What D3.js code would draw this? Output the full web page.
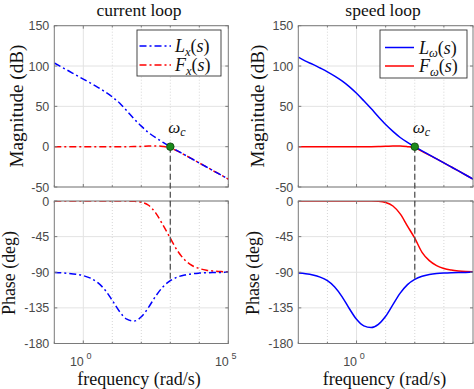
<!DOCTYPE html>
<html><head><meta charset="utf-8">
<script src="https://cdn.jsdelivr.net/npm/d3@7"></script>
<style>body{margin:0;background:#fff}svg{display:block}</style>
</head><body><svg id="c" width="474" height="389"></svg>
<script>
// ---------- data ----------
const leftFreq = [0.1, 0.1778, 0.3162, 0.5623, 1, 1.778, 3.162, 5.623, 10, 17.78, 31.62, 56.23, 100, 177.8, 316.2, 562.3, 1000, 1778, 3162, 5623, 10000, 17783, 31623, 56234, 100000];
const leftLmag = [103.8, 98.8, 93.8, 88.8, 83.8, 78.8, 73.6, 68.0, 61.7, 54.1, 44.5, 34.5, 25.5, 17.5, 11.0, 5.3, 0, -5.1, -10.2, -15.2, -20.2, -25.2, -30.2, -35.2, -40.2];
const leftLphase = [-90.4, -90.8, -91.4, -92.4, -94.3, -97.5, -103.2, -112.4, -125.6, -139.6, -149.3, -151.7, -146.3, -134.3, -120.0, -108.3, -100.6, -96.0, -93.4, -91.9, -91.1, -90.6, -90.3, -90.2, -90.1];
const leftFmag = [0, 0, 0, 0, 0, 0, 0, 0, 0.01, 0.02, 0.04, 0.12, 0.34, 0.72, 0.96, 0.24, -1.5, -5.6, -10.3, -15.2, -20.2, -25.2, -30.2, -35.2, -40.2];
const leftFphase = [0, 0, 0, 0, 0, 0, -0.01, -0.02, -0.04, -0.07, -0.15, -0.44, -1.5, -5.4, -15.3, -30.5, -47, -63, -74.5, -81.5, -85.3, -87.4, -88.5, -89.2, -89.5];

const rightFreq = [0.01, 0.01778, 0.03162, 0.05623, 0.1, 0.1778, 0.3162, 0.5623, 1, 1.778, 3.162, 5.623, 10, 17.78, 31.62, 56.23, 100, 177.8, 316.2, 562.3, 1000, 1778, 3162, 5623, 10000];
const rightLmag = [111, 106, 102, 97.5, 92.8, 87.5, 81.6, 74.5, 66.2, 56.9, 47.2, 37.1, 27.5, 19, 11.4, 5.3, 0, -5.1, -10.1, -15.1, -20.1, -25.1, -30.1, -35.1, -40.1];
const rightLphase = [-91.1, -91.9, -93.4, -96.1, -100.7, -108.6, -120.7, -135.8, -149.5, -157.8, -159.9, -155.8, -145.6, -130.9, -116.4, -105.6, -99.0, -95.1, -92.9, -91.6, -90.9, -90.5, -90.3, -90.2, -90.1];
const rightFmag = [0, 0, 0, 0, 0, 0, 0, 0, 0, 0.02, 0.05, 0.15, 0.38, 0.73, 0.82, 0, -1.5, -5.9, -10.4, -15.2, -20.1, -25.1, -30.1, -35.1, -40.1];
const rightFphase = [0, 0, 0, 0, 0, 0, 0, 0, -0.02, -0.04, -0.13, -0.45, -1.8, -6.3, -16.3, -31.7, -47, -64.8, -75.3, -81.6, -85.3, -87.3, -88.5, -89.2, -89.5];

const titles = ["current loop", "speed loop"];
const legendSubs = ["x", "ω"];
const crossFreq = [1000, 100];
const crossPhase = [-100.6, -99.0];
const magTicks = [150, 100, 50, 0, -50];
const phaseTicks = [0, -45, -90, -135, -180];
const leftDecades = [0.1, 1, 10, 100, 1000, 10000, 100000];
const rightDecades = [0.01, 0.1, 1, 10, 100, 1000, 10000];
const xTickLabels = [[1, "0"], [100000, "5"]];

// ---------- layout ----------
const svg = d3.select("#c");
const serif = "'Liberation Serif','DejaVu Serif',serif";
const sans = "'Liberation Sans',Arial,Helvetica,sans-serif";
const BLUE = "#0000ff", RED = "#ff0000";
const TOP = [25.7, 187], BOT = [201, 343.5];

const panels = [
  {i:0, freq:leftFreq, Lm:leftLmag, Lp:leftLphase, Fm:leftFmag, Fp:leftFphase, domain:[0.1, 1e5], x0:54.3, x1:228.3,
   dash:"7,3,2,3", decades:leftDecades, major:[1, 1e5],
   legend:{x:137, y:30, w:84, h:46, lx0:139.5, lx1:171, tx:175, r1:46, r2:65},
   magLabX:16.5, phLabX:9, titleX:139, freqX:139},
  {i:1, freq:rightFreq, Lm:rightLmag, Lp:rightLphase, Fm:rightFmag, Fp:rightFphase, domain:[0.01, 1e4], x0:298.3, x1:473,
   dash:null, decades:rightDecades, major:[1],
   legend:{x:380, y:30, w:87, h:48, lx0:385, lx1:414, tx:419, r1:47.5, r2:66},
   magLabX:257.5, phLabX:252.5, titleX:383, freqX:384.5}
];

const yMag = d3.scaleLinear().domain([-50, 150]).range([TOP[1], TOP[0]]);
const yPh = d3.scaleLinear().domain([-180, 0]).range([BOT[1], BOT[0]]);

function fitWidth(sel, target, maxFs) {
  const w = sel.node().getBBox().width;
  const fs = parseFloat(sel.attr("font-size"));
  sel.attr("font-size", Math.min(maxFs || 99, fs * target / w));
}

panels.forEach(p => {
  const x = d3.scaleLog().domain(p.domain).range([p.x0, p.x1]);
  const g = svg.append("g");
  const clipT = "clipT" + p.i, clipB = "clipB" + p.i;
  const defs = svg.append("defs");
  defs.append("clipPath").attr("id", clipT).append("rect")
    .attr("x", p.x0).attr("y", TOP[0]).attr("width", p.x1 - p.x0).attr("height", TOP[1] - TOP[0]);
  defs.append("clipPath").attr("id", clipB).append("rect")
    .attr("x", p.x0).attr("y", BOT[0]).attr("width", p.x1 - p.x0).attr("height", BOT[1] - BOT[0]);

  [[TOP, yMag, magTicks], [BOT, yPh, phaseTicks]].forEach(([Y, ys, ticks]) => {
    g.append("rect").attr("x", p.x0).attr("y", Y[0]).attr("width", p.x1 - p.x0).attr("height", Y[1] - Y[0]).attr("fill", "#fff");
    g.selectAll(null).data(ticks).enter().append("line")
      .attr("x1", p.x0).attr("x2", p.x1).attr("y1", d => ys(d)).attr("y2", d => ys(d))
      .attr("stroke", "#e3e3e3").attr("stroke-width", 1);
    g.selectAll(null).data(p.decades.filter(d => d > p.domain[0] && d < p.domain[1])).enter().append("line")
      .attr("x1", d => x(d)).attr("x2", d => x(d)).attr("y1", Y[0]).attr("y2", Y[1])
      .attr("stroke", d => p.major.includes(d) ? "#e3e3e3" : "#d6d6d6")
      .attr("stroke-dasharray", d => p.major.includes(d) ? null : "1,2")
      .attr("stroke-width", 1);
  });

  const line = ys => d3.line().x(d => x(d[0])).y(d => ys(d[1])).curve(d3.curveMonotoneX);
  const series = [
    [p.Fm, yMag, RED, clipT], [p.Lm, yMag, BLUE, clipT],
    [p.Fp, yPh, RED, clipB], [p.Lp, yPh, BLUE, clipB]
  ];
  series.forEach(([vals, ys, col, clip]) => {
    g.append("path").attr("clip-path", `url(#${clip})`)
      .attr("d", line(ys)(p.freq.map((f, k) => [f, vals[k]])))
      .attr("fill", "none").attr("stroke", col).attr("stroke-width", 1.5)
      .attr("stroke-dasharray", p.dash);
  });

  [[TOP, yMag, magTicks], [BOT, yPh, phaseTicks]].forEach(([Y, ys, ticks]) => {
    g.append("rect").attr("x", p.x0).attr("y", Y[0]).attr("width", p.x1 - p.x0).attr("height", Y[1] - Y[0])
      .attr("fill", "none").attr("stroke", "#7a7a7a").attr("stroke-width", 1);
    ticks.forEach(t => {
      g.append("line").attr("x1", p.x0).attr("x2", p.x0 + 3).attr("y1", ys(t)).attr("y2", ys(t)).attr("stroke", "#7a7a7a");
      g.append("line").attr("x1", p.x1).attr("x2", p.x1 - 3).attr("y1", ys(t)).attr("y2", ys(t)).attr("stroke", "#7a7a7a");
      g.append("text").attr("x", p.x0 - 5).attr("y", ys(t)).attr("dy", "0.36em")
        .attr("text-anchor", "end").attr("font-family", sans).attr("font-size", 12.5)
        .attr("fill", "#4a4a4a").text(t);
    });
    p.decades.forEach(d => {
      const len = p.major.includes(d) ? 3 : 1.8;
      g.append("line").attr("x1", x(d)).attr("x2", x(d)).attr("y1", Y[1]).attr("y2", Y[1] - len).attr("stroke", "#7a7a7a");
      g.append("line").attr("x1", x(d)).attr("x2", x(d)).attr("y1", Y[0]).attr("y2", Y[0] + len).attr("stroke", "#7a7a7a");
    });
  });

  // x tick labels: base "10" and exponent as separate texts
  xTickLabels.filter(d => d[0] >= p.domain[0] && d[0] <= p.domain[1]).forEach(([v, e]) => {
    const cx = x(v);
    g.append("text").attr("x", cx + 0.5).attr("y", 365.5).attr("text-anchor", "end")
      .attr("font-family", sans).attr("font-size", 12.5).attr("fill", "#4a4a4a").text("10");
    g.append("text").attr("x", cx + 3.2).attr("y", 358.5).attr("text-anchor", "start")
      .attr("font-family", sans).attr("font-size", 9).attr("fill", "#4a4a4a").text(e);
  });

  // crossover dashed line + marker
  const wx = x(crossFreq[p.i]);
  g.append("line").attr("x1", wx).attr("x2", wx).attr("y1", yMag(0)).attr("y2", yPh(crossPhase[p.i]))
    .attr("stroke", "#555").attr("stroke-width", 1.3).attr("stroke-dasharray", "6,3");
  g.append("circle").attr("cx", wx).attr("cy", yMag(0)).attr("r", 3.8)
    .attr("fill", "#1b8a1b").attr("stroke", "#0b3d0b").attr("stroke-width", 0.8);
  const wl = g.append("text").attr("x", wx - 2).attr("y", 133).attr("font-family", serif).attr("font-size", 17).attr("fill", "#111");
  wl.append("tspan").attr("font-style", "italic").text("ω");
  wl.append("tspan").attr("font-style", "italic").attr("font-size", 12).attr("dy", 3).text("c");

  // legend
  const L = p.legend;
  g.append("rect").attr("x", L.x).attr("y", L.y).attr("width", L.w).attr("height", L.h)
    .attr("fill", "#fff").attr("stroke", "#333").attr("stroke-width", 0.9);
  [[L.r1, BLUE, "L"], [L.r2, RED, "F"]].forEach(([ry, col, letter]) => {
    g.append("line").attr("x1", L.lx0).attr("x2", L.lx1).attr("y1", ry).attr("y2", ry)
      .attr("stroke", col).attr("stroke-width", 1.5).attr("stroke-dasharray", p.dash);
    const t = g.append("text").attr("x", L.tx).attr("y", ry + 6).attr("font-family", serif)
      .attr("font-size", 18).attr("fill", "#111");
    t.append("tspan").attr("font-style", "italic").text(letter);
    t.append("tspan").attr("font-style", "italic").attr("font-size", 12.5).attr("dy", 3.5).text(legendSubs[p.i]);
    t.append("tspan").attr("dy", -3.5).text("(");
    t.append("tspan").attr("font-style", "italic").text("s");
    t.append("tspan").text(")");
  });

  // titles and axis labels
  const tt = g.append("text").attr("x", p.titleX).attr("y", 15.5).attr("text-anchor", "middle")
    .attr("font-family", serif).attr("font-size", 17).attr("fill", "#111").text(titles[p.i]);
  fitWidth(tt, p.i === 0 ? 92 : 80, 17.5);
  const ml = g.append("text").attr("transform", `translate(${p.magLabX},106) rotate(-90)`)
    .attr("text-anchor", "middle").attr("dominant-baseline", "central")
    .attr("font-family", serif).attr("font-size", 17).attr("fill", "#111").text("Magnitude (dB)");
  fitWidth(ml, 123);
  const pl = g.append("text").attr("transform", `translate(${p.phLabX},273) rotate(-90)`)
    .attr("text-anchor", "middle").attr("dominant-baseline", "central")
    .attr("font-family", serif).attr("font-size", 17).attr("fill", "#111").text("Phase (deg)");
  fitWidth(pl, 84);
  const fl = g.append("text").attr("x", p.freqX).attr("y", 385).attr("text-anchor", "middle")
    .attr("font-family", serif).attr("font-size", 17).attr("fill", "#111").text("frequency (rad/s)");
  fitWidth(fl, 128, 18);
});
</script></body></html>
